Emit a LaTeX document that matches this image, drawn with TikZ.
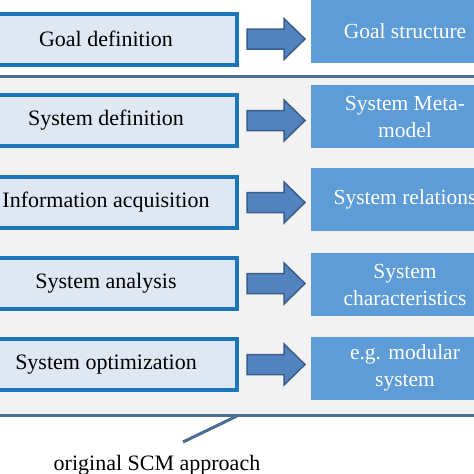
\documentclass[tikz,border=0pt]{standalone}
\usepackage{fontspec}
\setmainfont{Liberation Serif}
\usetikzlibrary{calc}
\definecolor{boxblue}{RGB}{27,117,187}
\definecolor{boxpale}{RGB}{222,231,242}
\definecolor{outblue}{RGB}{93,156,214}
\definecolor{arrowblue}{RGB}{82,131,190}
\definecolor{arrowedge}{RGB}{58,94,139}
\definecolor{panelgray}{RGB}{242,242,242}
\definecolor{rulecol}{RGB}{74,108,149}
\begin{document}
\begin{tikzpicture}[x=1pt,y=-1pt,
  stepbox/.style={draw=boxblue,line width=4pt,fill=boxpale,minimum width=262pt,minimum height=51pt,inner sep=0pt,font=\fontsize{22}{26}\selectfont},
  resultbox/.style={fill=outblue,text=white,minimum width=188pt,minimum height=63pt,inner sep=0pt,align=center,font=\fontsize{21.5}{27}\selectfont},
  fatarrow/.style={fill=arrowblue,draw=arrowedge,line width=1.5pt,line join=miter},
  rule/.style={rulecol,line width=3pt}]
\useasboundingbox (0,0) rectangle (474,474);
\clip (0,0) rectangle (474,474);
\fill [white] (0,0) rectangle (474,474);
\fill [panelgray] (0,76) rectangle (474,415);
\draw [rule] (0,76)--(474,76);
\draw [rule] (0,415)--(474,415);
\foreach \name/\ly/\ry/\ltext/\rtext in {goal/39/31.5/Goal definition/Goal structure,sysdef/120.5/116.5/System definition/System Meta-\\model,info/202.5/199.5/Information acquisition/System relations,analysis/283.5/284.5/System analysis/System\\characteristics,optim/364.5/368/System optimization/e.g. modular\\system}
{
\node [stepbox] (\name) at (106,\ly) {\ltext};
\node [resultbox] (\name-out) at (405,\ry) {\rtext};
\draw [fatarrow] ($(\name.east)+(8,-10)$) -- ++(37,0) -- ++(0,-10.5) -- ++(21,20.5) -- ++(-21,20.5) -- ++(0,-10.5) -- ++(-37,0) -- cycle;
}
\node [anchor=base,font=\fontsize{22}{26}\selectfont] (origin) at (157,470) {original SCM approach};
\coordinate (pinfoot) at (237,416);
\coordinate (pintip) at (183,442);
\draw [rule] (pinfoot)--(pintip);
\end{tikzpicture}
\end{document}
